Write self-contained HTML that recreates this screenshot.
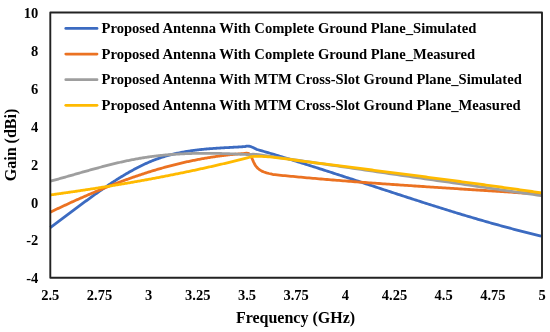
<!DOCTYPE html>
<html><head><meta charset="utf-8"><style>
html,body{margin:0;padding:0;background:#fff;}
svg{display:block;will-change:transform;}
text{font-family:"Liberation Serif",serif;font-weight:bold;font-size:14.5px;fill:#000;}
.lg{font-size:14.6px;}
.ttl{font-size:16px;}
</style></head><body>
<svg width="550" height="332" viewBox="0 0 550 332">
<rect x="0" y="0" width="550" height="332" fill="#fff"/>
<path d="M50.30,227.59 L51.30,226.85 L52.30,226.12 L53.30,225.38 L54.30,224.64 L55.30,223.90 L56.30,223.15 L57.30,222.41 L58.30,221.67 L59.30,220.92 L60.30,220.17 L61.30,219.43 L62.30,218.68 L63.30,217.93 L64.30,217.18 L65.30,216.43 L66.30,215.68 L67.30,214.93 L68.30,214.18 L69.30,213.43 L70.30,212.67 L71.30,211.92 L72.30,211.17 L73.30,210.42 L74.30,209.67 L75.30,208.93 L76.30,208.18 L77.30,207.43 L78.30,206.68 L79.30,205.94 L80.30,205.19 L81.30,204.45 L82.30,203.71 L83.30,202.97 L84.30,202.23 L85.30,201.49 L86.30,200.75 L87.30,200.02 L88.30,199.29 L89.30,198.56 L90.30,197.83 L91.30,197.10 L92.30,196.38 L93.30,195.66 L94.30,194.94 L95.30,194.22 L96.30,193.51 L97.30,192.80 L98.30,192.09 L99.30,191.38 L100.30,190.68 L101.30,189.98 L102.30,189.29 L103.30,188.59 L104.30,187.90 L105.30,187.22 L106.30,186.54 L107.30,185.86 L108.30,185.18 L109.30,184.51 L110.30,183.85 L111.30,183.18 L112.30,182.53 L113.30,181.87 L114.30,181.22 L115.30,180.58 L116.30,179.94 L117.30,179.30 L118.30,178.67 L119.30,178.05 L120.30,177.43 L121.30,176.81 L122.30,176.20 L123.30,175.60 L124.30,175.00 L125.30,174.40 L126.30,173.81 L127.30,173.23 L128.30,172.66 L129.30,172.08 L130.30,171.52 L131.30,170.96 L132.30,170.41 L133.30,169.86 L134.30,169.32 L135.30,168.79 L136.30,168.26 L137.30,167.74 L138.30,167.23 L139.30,166.72 L140.30,166.23 L141.30,165.73 L142.30,165.25 L143.30,164.77 L144.30,164.30 L145.30,163.84 L146.30,163.38 L147.30,162.94 L148.30,162.50 L149.30,162.07 L150.30,161.64 L151.30,161.23 L152.30,160.82 L153.30,160.42 L154.30,160.03 L155.30,159.65 L156.30,159.28 L157.30,158.91 L158.30,158.56 L159.30,158.21 L160.30,157.87 L161.30,157.54 L162.30,157.21 L163.30,156.89 L164.30,156.59 L165.30,156.28 L166.30,155.99 L167.30,155.70 L168.30,155.42 L169.30,155.15 L170.30,154.89 L171.30,154.63 L172.30,154.38 L173.30,154.13 L174.30,153.89 L175.30,153.66 L176.30,153.43 L177.30,153.21 L178.30,153.00 L179.30,152.79 L180.30,152.59 L181.30,152.39 L182.30,152.20 L183.30,152.02 L184.30,151.84 L185.30,151.66 L186.30,151.49 L187.30,151.33 L188.30,151.17 L189.30,151.02 L190.30,150.87 L191.30,150.72 L192.30,150.58 L193.30,150.44 L194.30,150.31 L195.30,150.18 L196.30,150.06 L197.30,149.94 L198.30,149.82 L199.30,149.71 L200.30,149.60 L201.30,149.49 L202.30,149.39 L203.30,149.29 L204.30,149.20 L205.30,149.10 L206.30,149.01 L207.30,148.93 L208.30,148.84 L209.30,148.76 L210.30,148.68 L211.30,148.60 L212.30,148.53 L213.30,148.46 L214.30,148.39 L215.30,148.32 L216.30,148.25 L217.30,148.18 L218.30,148.12 L219.30,148.06 L220.30,148.00 L221.30,147.94 L222.30,147.88 L223.30,147.82 L224.30,147.76 L225.30,147.71 L226.30,147.65 L227.30,147.60 L228.30,147.54 L229.30,147.49 L230.30,147.43 L231.30,147.38 L232.30,147.32 L233.30,147.27 L234.30,147.21 L235.30,147.16 L236.30,147.10 L237.30,147.05 L238.30,146.99 L239.30,146.93 L240.30,146.88 L241.30,146.82 L242.30,146.75 L243.30,146.69 L244.30,146.63 L245.00,146.58 L246.50,146.20 L248.00,146.10 L249.50,146.25 L251.00,146.70 L253.00,147.50 L255.00,148.50 L256.50,149.30 L258.00,149.75 L260.00,150.33 L262.00,150.91 L264.00,151.50 L266.00,152.09 L268.00,152.68 L270.00,153.27 L272.00,153.87 L274.00,154.46 L276.00,155.06 L278.00,155.67 L280.00,156.27 L282.00,156.88 L284.00,157.49 L286.00,158.10 L288.00,158.72 L290.00,159.33 L292.00,159.95 L294.00,160.57 L296.00,161.20 L298.00,161.82 L300.00,162.45 L302.00,163.07 L304.00,163.70 L306.00,164.34 L308.00,164.97 L310.00,165.60 L312.00,166.24 L314.00,166.88 L316.00,167.52 L318.00,168.16 L320.00,168.80 L322.00,169.44 L324.00,170.08 L326.00,170.73 L328.00,171.38 L330.00,172.02 L332.00,172.67 L334.00,173.32 L336.00,173.97 L338.00,174.62 L340.00,175.27 L342.00,175.93 L344.00,176.58 L346.00,177.23 L348.00,177.89 L350.00,178.54 L352.00,179.20 L354.00,179.86 L356.00,180.51 L358.00,181.17 L360.00,181.83 L362.00,182.48 L364.00,183.14 L366.00,183.80 L368.00,184.46 L370.00,185.11 L372.00,185.77 L374.00,186.43 L376.00,187.09 L378.00,187.75 L380.00,188.40 L382.00,189.06 L384.00,189.72 L386.00,190.37 L388.00,191.03 L390.00,191.68 L392.00,192.34 L394.00,192.99 L396.00,193.65 L398.00,194.30 L400.00,194.95 L402.00,195.60 L404.00,196.25 L406.00,196.90 L408.00,197.55 L410.00,198.20 L412.00,198.85 L414.00,199.49 L416.00,200.14 L418.00,200.78 L420.00,201.42 L422.00,202.07 L424.00,202.71 L426.00,203.34 L428.00,203.98 L430.00,204.62 L432.00,205.25 L434.00,205.88 L436.00,206.51 L438.00,207.14 L440.00,207.77 L442.00,208.39 L444.00,209.02 L446.00,209.64 L448.00,210.26 L450.00,210.88 L452.00,211.49 L454.00,212.11 L456.00,212.72 L458.00,213.33 L460.00,213.93 L462.00,214.54 L464.00,215.14 L466.00,215.74 L468.00,216.34 L470.00,216.93 L472.00,217.52 L474.00,218.11 L476.00,218.70 L478.00,219.29 L480.00,219.87 L482.00,220.45 L484.00,221.02 L486.00,221.59 L488.00,222.16 L490.00,222.73 L492.00,223.30 L494.00,223.86 L496.00,224.41 L498.00,224.97 L500.00,225.52 L502.00,226.07 L504.00,226.61 L506.00,227.15 L508.00,227.69 L510.00,228.22 L512.00,228.75 L514.00,229.28 L516.00,229.80 L518.00,230.32 L520.00,230.84 L522.00,231.35 L524.00,231.86 L526.00,232.36 L528.00,232.86 L530.00,233.36 L532.00,233.85 L534.00,234.34 L536.00,234.82 L538.00,235.30 L540.00,235.78 L542.00,236.25" fill="none" stroke="#3C6BC1" stroke-width="2.8" stroke-linejoin="round" stroke-linecap="butt"/>
<path d="M50.30,212.21 L51.30,211.73 L52.30,211.25 L53.30,210.77 L54.30,210.29 L55.30,209.82 L56.30,209.34 L57.30,208.86 L58.30,208.39 L59.30,207.92 L60.30,207.45 L61.30,206.98 L62.30,206.51 L63.30,206.04 L64.30,205.58 L65.30,205.11 L66.30,204.65 L67.30,204.18 L68.30,203.72 L69.30,203.26 L70.30,202.81 L71.30,202.35 L72.30,201.89 L73.30,201.44 L74.30,200.99 L75.30,200.54 L76.30,200.09 L77.30,199.64 L78.30,199.19 L79.30,198.75 L80.30,198.30 L81.30,197.86 L82.30,197.42 L83.30,196.98 L84.30,196.54 L85.30,196.10 L86.30,195.67 L87.30,195.24 L88.30,194.80 L89.30,194.37 L90.30,193.95 L91.30,193.52 L92.30,193.09 L93.30,192.67 L94.30,192.25 L95.30,191.83 L96.30,191.41 L97.30,190.99 L98.30,190.58 L99.30,190.16 L100.30,189.75 L101.30,189.34 L102.30,188.93 L103.30,188.52 L104.30,188.12 L105.30,187.72 L106.30,187.31 L107.30,186.91 L108.30,186.52 L109.30,186.12 L110.30,185.72 L111.30,185.33 L112.30,184.94 L113.30,184.55 L114.30,184.17 L115.30,183.78 L116.30,183.40 L117.30,183.02 L118.30,182.64 L119.30,182.26 L120.30,181.88 L121.30,181.51 L122.30,181.14 L123.30,180.77 L124.30,180.40 L125.30,180.04 L126.30,179.67 L127.30,179.31 L128.30,178.95 L129.30,178.59 L130.30,178.24 L131.30,177.88 L132.30,177.53 L133.30,177.18 L134.30,176.84 L135.30,176.49 L136.30,176.15 L137.30,175.81 L138.30,175.47 L139.30,175.13 L140.30,174.80 L141.30,174.46 L142.30,174.13 L143.30,173.81 L144.30,173.48 L145.30,173.16 L146.30,172.84 L147.30,172.52 L148.30,172.20 L149.30,171.89 L150.30,171.57 L151.30,171.26 L152.30,170.96 L153.30,170.65 L154.30,170.35 L155.30,170.05 L156.30,169.75 L157.30,169.45 L158.30,169.16 L159.30,168.87 L160.30,168.58 L161.30,168.30 L162.30,168.01 L163.30,167.73 L164.30,167.45 L165.30,167.17 L166.30,166.90 L167.30,166.63 L168.30,166.36 L169.30,166.09 L170.30,165.83 L171.30,165.57 L172.30,165.31 L173.30,165.05 L174.30,164.80 L175.30,164.55 L176.30,164.30 L177.30,164.05 L178.30,163.81 L179.30,163.57 L180.30,163.33 L181.30,163.09 L182.30,162.86 L183.30,162.63 L184.30,162.40 L185.30,162.18 L186.30,161.95 L187.30,161.73 L188.30,161.51 L189.30,161.30 L190.30,161.08 L191.30,160.87 L192.30,160.67 L193.30,160.46 L194.30,160.26 L195.30,160.06 L196.30,159.86 L197.30,159.67 L198.30,159.47 L199.30,159.29 L200.30,159.10 L201.30,158.91 L202.30,158.73 L203.30,158.55 L204.30,158.38 L205.30,158.20 L206.30,158.03 L207.30,157.86 L208.30,157.70 L209.30,157.53 L210.30,157.37 L211.30,157.21 L212.30,157.06 L213.30,156.91 L214.30,156.76 L215.30,156.61 L216.30,156.46 L217.30,156.32 L218.30,156.18 L219.30,156.04 L220.30,155.91 L221.30,155.78 L222.30,155.65 L223.30,155.52 L224.30,155.40 L225.30,155.28 L226.30,155.16 L227.30,155.04 L228.30,154.93 L229.30,154.82 L230.30,154.71 L231.30,154.61 L232.30,154.51 L233.30,154.41 L234.30,154.31 L235.30,154.22 L236.30,154.13 L237.30,154.04 L238.30,153.95 L239.30,153.87 L240.30,153.79 L241.30,153.71 L242.30,153.63 L243.30,153.56 L244.30,153.49 L245.00,153.45 L246.50,153.20 L248.00,153.40 L249.20,153.90 L250.50,155.30 L251.50,157.30 L252.50,159.50 L253.40,161.60 L254.30,163.50 L255.30,165.30 L256.60,167.00 L258.00,168.50 L259.80,169.90 L261.80,171.10 L264.00,172.00 L266.50,172.80 L269.00,173.50 L271.00,173.90 L273.00,174.53 L275.00,174.73 L277.00,174.93 L279.00,175.13 L281.00,175.33 L283.00,175.52 L285.00,175.72 L287.00,175.91 L289.00,176.10 L291.00,176.29 L293.00,176.48 L295.00,176.67 L297.00,176.86 L299.00,177.04 L301.00,177.22 L303.00,177.41 L305.00,177.59 L307.00,177.77 L309.00,177.94 L311.00,178.12 L313.00,178.30 L315.00,178.47 L317.00,178.64 L319.00,178.82 L321.00,178.99 L323.00,179.16 L325.00,179.33 L327.00,179.49 L329.00,179.66 L331.00,179.83 L333.00,179.99 L335.00,180.15 L337.00,180.31 L339.00,180.48 L341.00,180.64 L343.00,180.80 L345.00,180.95 L347.00,181.11 L349.00,181.27 L351.00,181.42 L353.00,181.58 L355.00,181.73 L357.00,181.88 L359.00,182.03 L361.00,182.18 L363.00,182.33 L365.00,182.48 L367.00,182.63 L369.00,182.78 L371.00,182.93 L373.00,183.07 L375.00,183.22 L377.00,183.36 L379.00,183.50 L381.00,183.65 L383.00,183.79 L385.00,183.93 L387.00,184.07 L389.00,184.21 L391.00,184.35 L393.00,184.49 L395.00,184.63 L397.00,184.77 L399.00,184.91 L401.00,185.04 L403.00,185.18 L405.00,185.31 L407.00,185.45 L409.00,185.59 L411.00,185.72 L413.00,185.85 L415.00,185.99 L417.00,186.12 L419.00,186.25 L421.00,186.39 L423.00,186.52 L425.00,186.65 L427.00,186.78 L429.00,186.91 L431.00,187.04 L433.00,187.17 L435.00,187.30 L437.00,187.43 L439.00,187.56 L441.00,187.69 L443.00,187.82 L445.00,187.95 L447.00,188.08 L449.00,188.21 L451.00,188.34 L453.00,188.47 L455.00,188.59 L457.00,188.72 L459.00,188.85 L461.00,188.98 L463.00,189.11 L465.00,189.23 L467.00,189.36 L469.00,189.49 L471.00,189.62 L473.00,189.75 L475.00,189.88 L477.00,190.00 L479.00,190.13 L481.00,190.26 L483.00,190.39 L485.00,190.52 L487.00,190.65 L489.00,190.78 L491.00,190.91 L493.00,191.03 L495.00,191.16 L497.00,191.29 L499.00,191.42 L501.00,191.55 L503.00,191.69 L505.00,191.82 L507.00,191.95 L509.00,192.08 L511.00,192.21 L513.00,192.34 L515.00,192.48 L517.00,192.61 L519.00,192.74 L521.00,192.88 L523.00,193.01 L525.00,193.15 L527.00,193.28 L529.00,193.42 L531.00,193.55 L533.00,193.69 L535.00,193.83 L537.00,193.96 L539.00,194.10 L541.00,194.24 L542.00,194.31" fill="none" stroke="#EB7222" stroke-width="2.8" stroke-linejoin="round" stroke-linecap="butt"/>
<path d="M50.30,181.24 L51.30,180.97 L52.30,180.69 L53.30,180.42 L54.30,180.14 L55.30,179.86 L56.30,179.59 L57.30,179.31 L58.30,179.03 L59.30,178.75 L60.30,178.47 L61.30,178.19 L62.30,177.91 L63.30,177.62 L64.30,177.34 L65.30,177.06 L66.30,176.77 L67.30,176.49 L68.30,176.20 L69.30,175.92 L70.30,175.63 L71.30,175.35 L72.30,175.06 L73.30,174.78 L74.30,174.49 L75.30,174.21 L76.30,173.92 L77.30,173.64 L78.30,173.35 L79.30,173.07 L80.30,172.78 L81.30,172.50 L82.30,172.21 L83.30,171.93 L84.30,171.65 L85.30,171.37 L86.30,171.09 L87.30,170.81 L88.30,170.53 L89.30,170.25 L90.30,169.97 L91.30,169.69 L92.30,169.41 L93.30,169.14 L94.30,168.86 L95.30,168.59 L96.30,168.32 L97.30,168.05 L98.30,167.78 L99.30,167.51 L100.30,167.24 L101.30,166.98 L102.30,166.71 L103.30,166.45 L104.30,166.19 L105.30,165.93 L106.30,165.67 L107.30,165.41 L108.30,165.16 L109.30,164.91 L110.30,164.66 L111.30,164.41 L112.30,164.16 L113.30,163.91 L114.30,163.67 L115.30,163.43 L116.30,163.19 L117.30,162.96 L118.30,162.72 L119.30,162.49 L120.30,162.26 L121.30,162.03 L122.30,161.81 L123.30,161.59 L124.30,161.37 L125.30,161.15 L126.30,160.94 L127.30,160.72 L128.30,160.51 L129.30,160.31 L130.30,160.11 L131.30,159.91 L132.30,159.71 L133.30,159.51 L134.30,159.32 L135.30,159.14 L136.30,158.95 L137.30,158.77 L138.30,158.59 L139.30,158.42 L140.30,158.25 L141.30,158.08 L142.30,157.91 L143.30,157.75 L144.30,157.59 L145.30,157.44 L146.30,157.29 L147.30,157.14 L148.30,157.00 L149.30,156.86 L150.30,156.72 L151.30,156.58 L152.30,156.45 L153.30,156.32 L154.30,156.20 L155.30,156.07 L156.30,155.95 L157.30,155.84 L158.30,155.72 L159.30,155.61 L160.30,155.51 L161.30,155.40 L162.30,155.30 L163.30,155.20 L164.30,155.11 L165.30,155.01 L166.30,154.92 L167.30,154.83 L168.30,154.75 L169.30,154.67 L170.30,154.59 L171.30,154.51 L172.30,154.44 L173.30,154.37 L174.30,154.30 L175.30,154.23 L176.30,154.17 L177.30,154.11 L178.30,154.05 L179.30,153.99 L180.30,153.94 L181.30,153.88 L182.30,153.84 L183.30,153.79 L184.30,153.74 L185.30,153.70 L186.30,153.66 L187.30,153.63 L188.30,153.59 L189.30,153.56 L190.30,153.53 L191.30,153.50 L192.30,153.47 L193.30,153.45 L194.30,153.42 L195.30,153.40 L196.30,153.39 L197.30,153.37 L198.30,153.36 L199.30,153.34 L200.30,153.33 L201.30,153.33 L202.30,153.32 L203.30,153.31 L204.30,153.31 L205.30,153.31 L206.30,153.31 L207.30,153.31 L208.30,153.32 L209.30,153.32 L210.30,153.33 L211.30,153.34 L212.30,153.35 L213.30,153.37 L214.30,153.38 L215.30,153.40 L216.30,153.41 L217.30,153.43 L218.30,153.45 L219.30,153.47 L220.30,153.50 L221.30,153.52 L222.30,153.55 L223.30,153.58 L224.30,153.60 L225.30,153.63 L226.30,153.67 L227.30,153.70 L228.30,153.73 L229.30,153.77 L230.30,153.80 L231.30,153.84 L232.30,153.88 L233.30,153.92 L234.30,153.96 L235.30,154.00 L236.30,154.05 L237.30,154.09 L238.30,154.13 L239.30,154.18 L240.30,154.23 L241.30,154.27 L242.30,154.32 L243.30,154.37 L244.30,154.42 L245.30,154.47 L246.30,154.52 L247.30,154.58 L248.30,154.63 L249.30,154.68 L250.00,154.72 L253.00,154.20 L256.00,154.45 L259.00,154.75 L262.00,155.10 L265.00,155.53 L269.00,156.11 L273.00,156.69 L277.00,157.27 L281.00,157.85 L285.00,158.43 L289.00,159.01 L293.00,159.59 L297.00,160.17 L301.00,160.75 L305.00,161.33 L309.00,161.91 L313.00,162.49 L317.00,163.07 L321.00,163.65 L325.00,164.23 L329.00,164.81 L333.00,165.40 L337.00,165.98 L341.00,166.56 L345.00,167.14 L349.00,167.72 L353.00,168.30 L357.00,168.88 L361.00,169.46 L365.00,170.04 L369.00,170.62 L373.00,171.20 L377.00,171.78 L381.00,172.36 L385.00,172.94 L389.00,173.52 L393.00,174.10 L397.00,174.68 L401.00,175.26 L405.00,175.85 L409.00,176.43 L413.00,177.01 L417.00,177.59 L421.00,178.17 L425.00,178.75 L429.00,179.33 L433.00,179.91 L437.00,180.49 L441.00,181.07 L445.00,181.65 L449.00,182.23 L453.00,182.81 L457.00,183.39 L461.00,183.97 L465.00,184.55 L469.00,185.13 L473.00,185.71 L477.00,186.30 L481.00,186.88 L485.00,187.46 L489.00,188.04 L493.00,188.62 L497.00,189.20 L501.00,189.78 L505.00,190.36 L509.00,190.94 L513.00,191.52 L517.00,192.10 L521.00,192.68 L525.00,193.26 L529.00,193.84 L533.00,194.42 L537.00,195.00 L541.00,195.58 L542.00,195.73" fill="none" stroke="#9E9E9E" stroke-width="2.8" stroke-linejoin="round" stroke-linecap="butt"/>
<path d="M50.30,194.93 L51.30,194.80 L52.30,194.66 L53.30,194.52 L54.30,194.38 L55.30,194.24 L56.30,194.10 L57.30,193.96 L58.30,193.82 L59.30,193.68 L60.30,193.54 L61.30,193.40 L62.30,193.26 L63.30,193.12 L64.30,192.98 L65.30,192.83 L66.30,192.69 L67.30,192.55 L68.30,192.40 L69.30,192.26 L70.30,192.11 L71.30,191.97 L72.30,191.82 L73.30,191.68 L74.30,191.53 L75.30,191.38 L76.30,191.24 L77.30,191.09 L78.30,190.94 L79.30,190.79 L80.30,190.64 L81.30,190.49 L82.30,190.34 L83.30,190.19 L84.30,190.04 L85.30,189.89 L86.30,189.74 L87.30,189.59 L88.30,189.44 L89.30,189.28 L90.30,189.13 L91.30,188.98 L92.30,188.82 L93.30,188.67 L94.30,188.51 L95.30,188.36 L96.30,188.20 L97.30,188.04 L98.30,187.89 L99.30,187.73 L100.30,187.57 L101.30,187.41 L102.30,187.25 L103.30,187.09 L104.30,186.93 L105.30,186.77 L106.30,186.61 L107.30,186.45 L108.30,186.29 L109.30,186.13 L110.30,185.96 L111.30,185.80 L112.30,185.64 L113.30,185.47 L114.30,185.31 L115.30,185.14 L116.30,184.98 L117.30,184.81 L118.30,184.64 L119.30,184.48 L120.30,184.31 L121.30,184.14 L122.30,183.97 L123.30,183.80 L124.30,183.63 L125.30,183.46 L126.30,183.29 L127.30,183.12 L128.30,182.94 L129.30,182.77 L130.30,182.60 L131.30,182.42 L132.30,182.25 L133.30,182.08 L134.30,181.90 L135.30,181.72 L136.30,181.55 L137.30,181.37 L138.30,181.19 L139.30,181.01 L140.30,180.83 L141.30,180.65 L142.30,180.47 L143.30,180.29 L144.30,180.11 L145.30,179.93 L146.30,179.75 L147.30,179.57 L148.30,179.38 L149.30,179.20 L150.30,179.01 L151.30,178.83 L152.30,178.64 L153.30,178.45 L154.30,178.27 L155.30,178.08 L156.30,177.89 L157.30,177.70 L158.30,177.51 L159.30,177.32 L160.30,177.13 L161.30,176.94 L162.30,176.75 L163.30,176.55 L164.30,176.36 L165.30,176.17 L166.30,175.97 L167.30,175.78 L168.30,175.58 L169.30,175.38 L170.30,175.19 L171.30,174.99 L172.30,174.79 L173.30,174.59 L174.30,174.39 L175.30,174.19 L176.30,173.99 L177.30,173.79 L178.30,173.59 L179.30,173.38 L180.30,173.18 L181.30,172.98 L182.30,172.77 L183.30,172.56 L184.30,172.36 L185.30,172.15 L186.30,171.94 L187.30,171.73 L188.30,171.53 L189.30,171.32 L190.30,171.11 L191.30,170.89 L192.30,170.68 L193.30,170.47 L194.30,170.26 L195.30,170.04 L196.30,169.83 L197.30,169.61 L198.30,169.40 L199.30,169.18 L200.30,168.96 L201.30,168.74 L202.30,168.52 L203.30,168.30 L204.30,168.08 L205.30,167.86 L206.30,167.64 L207.30,167.42 L208.30,167.20 L209.30,166.97 L210.30,166.75 L211.30,166.52 L212.30,166.29 L213.30,166.07 L214.30,165.84 L215.30,165.61 L216.30,165.38 L217.30,165.15 L218.30,164.92 L219.30,164.69 L220.30,164.46 L221.30,164.22 L222.30,163.99 L223.30,163.76 L224.30,163.52 L225.30,163.28 L226.30,163.05 L227.30,162.81 L228.30,162.57 L229.30,162.33 L230.30,162.09 L231.30,161.85 L232.30,161.61 L233.30,161.37 L234.30,161.12 L235.30,160.88 L236.30,160.63 L237.30,160.39 L238.30,160.14 L239.30,159.90 L240.30,159.65 L241.30,159.40 L242.30,159.15 L243.30,158.90 L244.30,158.65 L245.30,158.40 L246.30,158.14 L247.30,157.89 L248.00,157.71 L250.00,156.95 L252.00,156.65 L254.00,156.45 L256.00,156.35 L258.00,156.30 L260.00,156.32 L262.00,156.40 L264.00,156.55 L266.00,156.70 L268.00,156.85 L270.00,156.87 L272.00,157.13 L274.00,157.39 L276.00,157.66 L278.00,157.92 L280.00,158.18 L282.00,158.44 L284.00,158.70 L286.00,158.96 L288.00,159.22 L290.00,159.48 L292.00,159.73 L294.00,159.99 L296.00,160.25 L298.00,160.51 L300.00,160.77 L302.00,161.03 L304.00,161.28 L306.00,161.54 L308.00,161.80 L310.00,162.06 L312.00,162.32 L314.00,162.57 L316.00,162.83 L318.00,163.09 L320.00,163.34 L322.00,163.60 L324.00,163.86 L326.00,164.11 L328.00,164.37 L330.00,164.63 L332.00,164.88 L334.00,165.14 L336.00,165.40 L338.00,165.65 L340.00,165.91 L342.00,166.16 L344.00,166.42 L346.00,166.68 L348.00,166.93 L350.00,167.19 L352.00,167.45 L354.00,167.70 L356.00,167.96 L358.00,168.21 L360.00,168.47 L362.00,168.73 L364.00,168.98 L366.00,169.24 L368.00,169.50 L370.00,169.75 L372.00,170.01 L374.00,170.27 L376.00,170.52 L378.00,170.78 L380.00,171.04 L382.00,171.29 L384.00,171.55 L386.00,171.81 L388.00,172.07 L390.00,172.33 L392.00,172.58 L394.00,172.84 L396.00,173.10 L398.00,173.36 L400.00,173.62 L402.00,173.88 L404.00,174.14 L406.00,174.40 L408.00,174.65 L410.00,174.91 L412.00,175.17 L414.00,175.44 L416.00,175.70 L418.00,175.96 L420.00,176.22 L422.00,176.48 L424.00,176.74 L426.00,177.00 L428.00,177.27 L430.00,177.53 L432.00,177.79 L434.00,178.05 L436.00,178.32 L438.00,178.58 L440.00,178.85 L442.00,179.11 L444.00,179.38 L446.00,179.64 L448.00,179.91 L450.00,180.17 L452.00,180.44 L454.00,180.71 L456.00,180.97 L458.00,181.24 L460.00,181.51 L462.00,181.78 L464.00,182.05 L466.00,182.32 L468.00,182.59 L470.00,182.86 L472.00,183.13 L474.00,183.40 L476.00,183.67 L478.00,183.94 L480.00,184.22 L482.00,184.49 L484.00,184.76 L486.00,185.04 L488.00,185.31 L490.00,185.59 L492.00,185.86 L494.00,186.14 L496.00,186.42 L498.00,186.69 L500.00,186.97 L502.00,187.25 L504.00,187.53 L506.00,187.81 L508.00,188.09 L510.00,188.37 L512.00,188.65 L514.00,188.94 L516.00,189.22 L518.00,189.50 L520.00,189.79 L522.00,190.07 L524.00,190.36 L526.00,190.64 L528.00,190.93 L530.00,191.22 L532.00,191.51 L534.00,191.80 L536.00,192.09 L538.00,192.38 L540.00,192.67 L542.00,192.96" fill="none" stroke="#FFBA00" stroke-width="2.8" stroke-linejoin="round" stroke-linecap="butt"/>
<rect x="50.3" y="12.5" width="491.7" height="265.3" fill="none" stroke="#222" stroke-width="1.9" stroke-linejoin="round"/>
<text x="38.3" y="18.00" text-anchor="end">10</text><text x="38.3" y="55.90" text-anchor="end">8</text><text x="38.3" y="93.80" text-anchor="end">6</text><text x="38.3" y="131.70" text-anchor="end">4</text><text x="38.3" y="169.60" text-anchor="end">2</text><text x="38.3" y="207.50" text-anchor="end">0</text><text x="38.3" y="245.40" text-anchor="end">-2</text><text x="38.3" y="283.30" text-anchor="end">-4</text>
<text x="50.30" y="300" text-anchor="middle">2.5</text><text x="99.47" y="300" text-anchor="middle">2.75</text><text x="148.64" y="300" text-anchor="middle">3</text><text x="197.81" y="300" text-anchor="middle">3.25</text><text x="246.98" y="300" text-anchor="middle">3.5</text><text x="296.15" y="300" text-anchor="middle">3.75</text><text x="345.32" y="300" text-anchor="middle">4</text><text x="394.49" y="300" text-anchor="middle">4.25</text><text x="443.66" y="300" text-anchor="middle">4.5</text><text x="492.83" y="300" text-anchor="middle">4.75</text><text x="542.00" y="300" text-anchor="middle">5</text>
<line x1="65.8" y1="28.40" x2="97.0" y2="28.40" stroke="#3C6BC1" stroke-width="2.8" stroke-linecap="round"/><text x="101.5" y="33.10" class="lg">Proposed Antenna With Complete Ground Plane_Simulated</text><line x1="65.8" y1="54.03" x2="97.0" y2="54.03" stroke="#EB7222" stroke-width="2.8" stroke-linecap="round"/><text x="101.5" y="58.73" class="lg">Proposed Antenna With Complete Ground Plane_Measured</text><line x1="65.8" y1="79.66" x2="97.0" y2="79.66" stroke="#9E9E9E" stroke-width="2.8" stroke-linecap="round"/><text x="101.5" y="84.36" class="lg">Proposed Antenna With MTM Cross-Slot Ground Plane_Simulated</text><line x1="65.8" y1="105.29" x2="97.0" y2="105.29" stroke="#FFBA00" stroke-width="2.8" stroke-linecap="round"/><text x="101.5" y="109.99" class="lg">Proposed Antenna With MTM Cross-Slot Ground Plane_Measured</text>
<text class="ttl" x="295.5" y="323" text-anchor="middle">Frequency (GHz)</text>
<text class="ttl" x="0" y="0" text-anchor="middle" transform="translate(15.5,145) rotate(-90)">Gain (dBi)</text>
</svg>
</body></html>
